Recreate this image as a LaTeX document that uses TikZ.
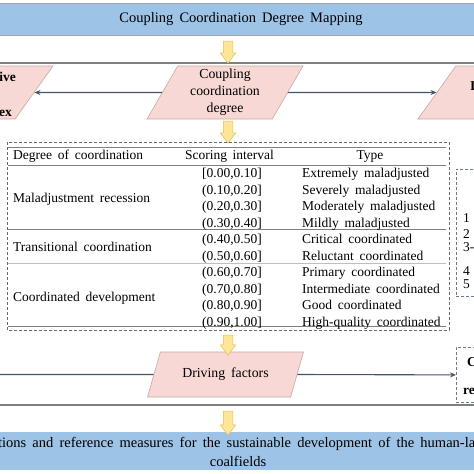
\documentclass[tikz,border=0pt]{standalone}
\usepackage{fontspec}
\setmainfont{Liberation Serif}[WordSpace=1.7]
\usetikzlibrary{shapes.geometric,shapes.arrows,arrows.meta}
\definecolor{barblue}{HTML}{9DC3E6}
\definecolor{pinkfill}{HTML}{F8D8D4}
\definecolor{pinkedge}{HTML}{C8A8A4}
\definecolor{arrfill}{HTML}{FFE597}
\definecolor{arredge}{HTML}{E2C057}
\definecolor{conncol}{HTML}{44546A}
\definecolor{framegray}{HTML}{7F7F7F}
\definecolor{dashgray}{HTML}{6B6B6B}
\definecolor{dashblue}{HTML}{6A7890}
\begin{document}
\begin{tikzpicture}[x=1pt,y=-1pt,
  every node/.style={inner sep=0pt},
  cell/.style={font=\fontsize{13.5}{16}\selectfont, anchor=base west},
  ivcell/.style={font=\fontsize{13.5}{16}\selectfont, anchor=base},
  para/.style={trapezium, trapezium stretches=true, fill=pinkfill, draw=pinkedge, line width=0.6pt,
    inner sep=2pt, minimum width=156pt, minimum height=53pt, trapezium left angle=64.7, trapezium right angle=115.3,
    align=center, font=\fontsize{13.8}{17}\selectfont},
  yarrow/.style={single arrow, shape border rotate=270, fill=arrfill, draw=arredge, line width=0.5pt,
    inner sep=4.5pt, single arrow head extend=3pt, single arrow tip angle=74, minimum height=22pt},
  conn/.style={draw=conncol, line width=1.1pt, -{Stealth[length=6pt,width=5pt]}},
  dbox/.style={draw=dashblue, line width=0.8pt, dash pattern=on 3pt off 2pt},
  bar/.style={fill=barblue, draw=framegray!70, line width=0.6pt},
  boldtxt/.style={font=\bfseries\fontsize{13.5}{16}\selectfont},
  tline/.style={draw=framegray, line width=0.8pt},
]
\clip (0,0) rectangle (474,474);
\fill[white] (0,0) rectangle (474,474);

% frame
\draw[framegray, line width=1.4pt] (-20,63) rectangle (494,405);

% top bar
\node[bar, minimum width=500pt, minimum height=32pt, font=\fontsize{14.5}{17}\selectfont] (title) at (241,19) {Coupling Coordination Degree Mapping};

% bottom bar
\node[bar, draw=none, minimum width=500pt, minimum height=38pt] (bbar) at (237,451) {};
\node[font=\fontsize{14.5}{17}\selectfont, anchor=base west] (b1) at (-44,447.5) {Suggestions and reference measures for the sustainable development of the human-land system in};
\node[font=\fontsize{14.5}{17}\selectfont, anchor=base] (b2) at (238,466.5) {coalfields};

% parallelograms
\node[para] (cc) at (225,92.5) {Coupling\\coordination\\degree};
\node[para] (lp) at (-25,92.5) {};
\node[para] (rp) at (496,92.5) {};
\node[para, minimum height=45pt, trapezium left angle=62, trapezium right angle=118] (df) at (225.5,374.5) {Driving factors};

\node[boldtxt, anchor=base east] (lpt1) at (16,81.5) {ive};
\node[boldtxt, anchor=base east] (lpt3) at (12,116) {ex};
\node[boldtxt, anchor=base west] (rpt1) at (470,90) {I};

% connectors
\draw[conn] (cc.west) -- (lp.east);
\draw[conn] (cc.east) -- (rp.west);

% yellow arrows
\node[yarrow] (a1) at (228,49) {};
\node[yarrow] (a2) at (228,129) {};
\node[yarrow, minimum height=20pt] (a3) at (228,342) {};
\node[yarrow, minimum height=24pt] (a4) at (228,420) {};

% table
\draw[dbox, draw=dashgray] (7,142) rectangle (449,330);
\draw[tline] (8,147) -- (446,147);
\draw[tline] (8,165) -- (446,165);
\draw[tline] (8,229) -- (446,229);
\draw[tline, draw=framegray!50] (8,263.5) -- (446,263.5);
\draw[tline] (8,326) -- (446,326);

\node[cell] (h1) at (13,159.5) {Degree of coordination};
\node[ivcell] (h2) at (229.5,159.5) {Scoring interval};
\node[ivcell] (h3) at (370,159.5) {Type};

\node[cell] (g1) at (13,202.5) {Maladjustment recession};
\node[cell] (g2) at (13,251.5) {Transitional coordination};
\node[cell] (g3) at (13,301.5) {Coordinated development};

\node[ivcell] (iv1) at (232,177.8) {[0.00,0.10]};
\node[ivcell] (iv2) at (232,194.3) {(0.10,0.20]};
\node[ivcell] (iv3) at (232,210.8) {(0.20,0.30]};
\node[ivcell] (iv4) at (232,227.3) {(0.30,0.40]};
\node[ivcell] (iv5) at (232,243.8) {(0.40,0.50]};
\node[ivcell] (iv6) at (232,260.3) {(0.50,0.60]};
\node[ivcell] (iv7) at (232,276.8) {(0.60,0.70]};
\node[ivcell] (iv8) at (232,293.3) {(0.70,0.80]};
\node[ivcell] (iv9) at (232,309.8) {(0.80,0.90]};
\node[ivcell] (iv10) at (232,326.3) {(0.90,1.00]};

\node[cell] (ty1) at (302,177.8) {Extremely maladjusted};
\node[cell] (ty2) at (302,194.3) {Severely maladjusted};
\node[cell] (ty3) at (302,210.8) {Moderately maladjusted};
\node[cell] (ty4) at (302,227.3) {Mildly maladjusted};
\node[cell] (ty5) at (302,243.8) {Critical coordinated};
\node[cell] (ty6) at (302,260.3) {Reluctant coordinated};
\node[cell] (ty7) at (302,276.8) {Primary coordinated};
\node[cell] (ty8) at (302,293.3) {Intermediate coordinated};
\node[cell] (ty9) at (302,309.8) {Good coordinated};
\node[cell] (ty10) at (302,326.3) {High-quality coordinated};

% right dashed boxes
\node[dbox, anchor=north west, minimum width=60pt, minimum height=127pt] (rbox) at (456,169) {};
\node[cell] (n1) at (463,222.5) {1};
\node[cell] (n2) at (463,238) {2};
\node[cell] (n3) at (463,251) {3-};
\node[cell] (n4) at (463,275.5) {4};
\node[cell] (n5) at (463,288) {5};

\node[dbox, anchor=north west, minimum width=60pt, minimum height=55pt] (rbox2) at (456,347) {};
\node[boldtxt, anchor=base west] (r2a) at (467,366.5) {C};
\node[boldtxt, anchor=base west] (r2b) at (463,394.5) {re};

% driving factor connectors
\coordinate (dfl) at (-30,374.5);
\draw[conn] (df.west) -- (dfl);
\draw[conn] (df.east) -- (rbox2.west);
\end{tikzpicture}
\end{document}
